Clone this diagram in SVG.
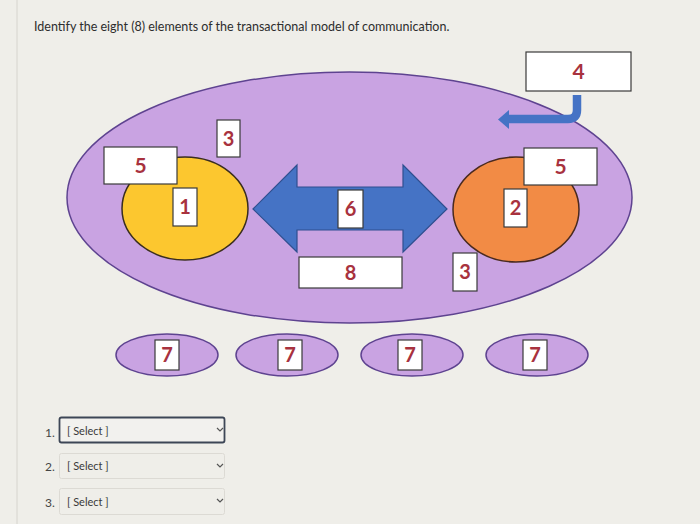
<svg xmlns="http://www.w3.org/2000/svg" width="700" height="524" viewBox="0 0 700 524">
<style>
.bg{fill:#efeee9}
.big{fill:#c9a3e2;stroke:#5e4390;stroke-width:1.5}
.lbl{fill:#ffffff;stroke:#3a3a3a;stroke-width:1.2}
.num{font-family:Lato,"Liberation Sans",sans-serif;font-weight:bold;fill:#a8323e;text-anchor:middle}
.title{font-family:Lato,"Liberation Sans",sans-serif;font-size:12.5px;fill:#2d2d2d}
.sel{font-family:Lato,"Liberation Sans",sans-serif;font-size:11px;fill:#3a3a3a}
.idx{font-family:Lato,"Liberation Sans",sans-serif;font-size:12px;fill:#444}
.chev{fill:none;stroke:#555;stroke-width:1.2}
.blue{fill:#4573c5;stroke:#2f4f8f;stroke-width:1.2}
</style>
<rect class="bg" x="0" y="0" width="700" height="524"/>
<line x1="17" y1="0" x2="17" y2="524" stroke="#d6d4ce" stroke-width="1"/>
<text class="title" x="34" y="31">Identify the eight (8) elements of the transactional model of communication.</text>

<g id="context">
<ellipse class="big" cx="349.5" cy="197.5" rx="282.5" ry="125.5"/>
</g>

<g id="sender">
<ellipse cx="185" cy="208.5" rx="63" ry="51.5" fill="#fcc72f" stroke="#3a2e1e" stroke-width="1.5"/>
</g>
<g id="receiver">
<ellipse cx="516" cy="209.5" rx="63" ry="52.5" fill="#f28b45" stroke="#4a2a1e" stroke-width="1.5"/>
</g>

<g id="connectors">
<path class="blue" d="M253,209 L297,165 L297,187 L403,187 L403,165 L447,209 L403,252 L403,230 L297,230 L297,252 Z"/>
<path d="M577,95 L577,110 Q577,119 568,119 L507,119" fill="none" stroke="#4573c5" stroke-width="8.5"/>
<path d="M498,119.5 L509,110 L509,129 Z" fill="#4573c5"/>
</g>

<g id="label-5-left"><rect class="lbl" x="104" y="147" width="73" height="37"/><text class="num" x="140.5" y="173" font-size="21">5</text></g>
<g id="label-3-top"><rect class="lbl" x="217" y="120" width="23" height="37"/><text class="num" x="228.5" y="146" font-size="20">3</text></g>
<g id="label-1"><rect class="lbl" x="173" y="188" width="24" height="38"/><text class="num" x="185" y="214" font-size="20">1</text></g>
<g id="label-6"><rect class="lbl" x="338" y="190" width="25" height="38"/><text class="num" x="350.5" y="216" font-size="20">6</text></g>
<g id="label-8"><rect class="lbl" x="299" y="257" width="103" height="31"/><text class="num" x="350.5" y="280" font-size="20">8</text></g>
<g id="label-5-right"><rect class="lbl" x="524" y="148" width="73" height="37"/><text class="num" x="560.5" y="174" font-size="21">5</text></g>
<g id="label-2"><rect class="lbl" x="504" y="189" width="23" height="38"/><text class="num" x="515.5" y="215" font-size="20">2</text></g>
<g id="label-3-bottom"><rect class="lbl" x="453" y="253" width="24" height="38"/><text class="num" x="465" y="279" font-size="20">3</text></g>
<g id="label-4"><rect class="lbl" x="526" y="52" width="105" height="39"/><text class="num" x="578.5" y="79" font-size="21">4</text></g>

<g id="channel-1"><ellipse class="big" cx="167" cy="355" rx="51" ry="21"/><rect class="lbl" x="155" y="340" width="24" height="30"/><text class="num" x="167" y="362" font-size="20">7</text></g>
<g id="channel-2"><ellipse class="big" cx="287" cy="355" rx="51" ry="21"/><rect class="lbl" x="278" y="340" width="24" height="30"/><text class="num" x="290" y="362" font-size="20">7</text></g>
<g id="channel-3"><ellipse class="big" cx="412" cy="355" rx="51" ry="21"/><rect class="lbl" x="398" y="340" width="24" height="30"/><text class="num" x="410" y="362" font-size="20">7</text></g>
<g id="channel-4"><ellipse class="big" cx="537" cy="355" rx="51" ry="21"/><rect class="lbl" x="523" y="340" width="24" height="30"/><text class="num" x="535" y="362" font-size="20">7</text></g>

<g id="select-1">
<text class="idx" x="45" y="437">1.</text>
<rect x="59.5" y="417.5" width="165" height="25" rx="2" fill="#f2f1ee" stroke="#3d4656" stroke-width="1.8"/>
<text class="sel" x="67" y="435">[ Select ]</text>
<path class="chev" d="M217,428 L220,431 L223,428"/>
</g>
<g id="select-2">
<text class="idx" x="45" y="471">2.</text>
<rect x="59.5" y="453.5" width="165" height="25" rx="2" fill="#efeee9" stroke="#dcdad4" stroke-width="1"/>
<text class="sel" x="67" y="470">[ Select ]</text>
<path class="chev" d="M217,464 L220,467 L223,464"/>
</g>
<g id="select-3">
<text class="idx" x="45" y="507">3.</text>
<rect x="59.5" y="488.5" width="165" height="26" rx="2" fill="#efeee9" stroke="#dcdad4" stroke-width="1"/>
<text class="sel" x="67" y="506">[ Select ]</text>
<path class="chev" d="M217,499 L220,502 L223,499"/>
</g>
</svg>
